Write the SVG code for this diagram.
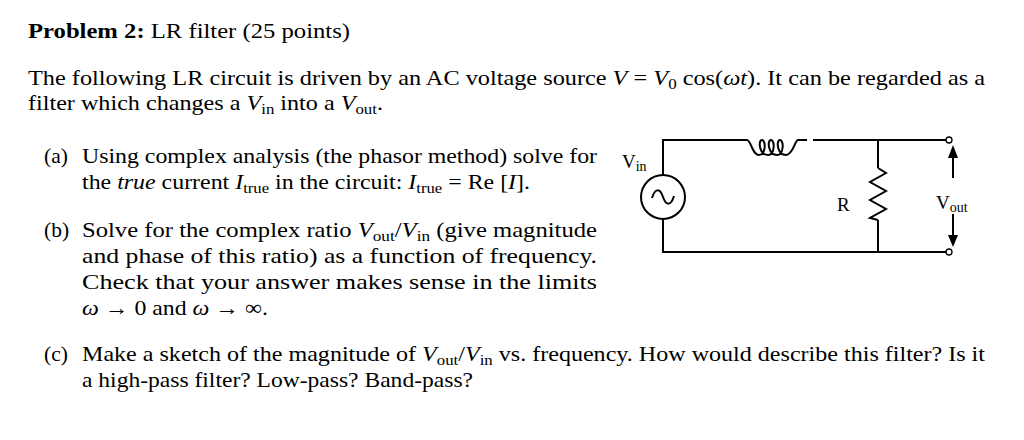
<svg xmlns="http://www.w3.org/2000/svg" width="1024" height="440" viewBox="0 0 1024 440">
<style>
text{font-family:"Liberation Serif","DejaVu Serif",serif;font-size:21.5px;fill:#000}
.i{font-style:italic}
.s{font-size:15px}
.w{fill:none;stroke:#000;stroke-width:2}
.c{font-family:"Liberation Serif",serif;font-size:19px}
</style>
<rect width="1024" height="440" fill="#fff"/>
<text x="28" y="38" textLength="322" lengthAdjust="spacingAndGlyphs"><tspan font-weight="bold">Problem 2:</tspan> LR filter (25 points)</text>
<text x="28" y="85" textLength="957" lengthAdjust="spacingAndGlyphs">The following LR circuit is driven by an AC voltage source <tspan class="i">V</tspan> = <tspan class="i">V</tspan><tspan class="s" dy="4">0</tspan><tspan dy="-4"> cos(</tspan><tspan class="i">ωt</tspan>). It can be regarded as a</text>
<text x="28" y="110" textLength="355" lengthAdjust="spacingAndGlyphs">filter which changes a <tspan class="i">V</tspan><tspan class="s" dy="4">in</tspan><tspan dy="-4"> into a </tspan><tspan class="i">V</tspan><tspan class="s" dy="4">out</tspan><tspan dy="-4">.</tspan></text>
<text x="44" y="163">(a)</text>
<text x="82" y="163" textLength="515" lengthAdjust="spacingAndGlyphs">Using complex analysis (the phasor method) solve for</text>
<text x="82" y="189" textLength="448" lengthAdjust="spacingAndGlyphs">the <tspan class="i">true</tspan> current <tspan class="i">I</tspan><tspan class="s" dy="4">true</tspan><tspan dy="-4"> in the circuit: </tspan><tspan class="i">I</tspan><tspan class="s" dy="4">true</tspan><tspan dy="-4"> = Re [</tspan><tspan class="i">I</tspan>].</text>
<text x="44" y="237">(b)</text>
<text x="82" y="237" textLength="515" lengthAdjust="spacingAndGlyphs">Solve for the complex ratio <tspan class="i">V</tspan><tspan class="s" dy="4">out</tspan><tspan dy="-4">/</tspan><tspan class="i">V</tspan><tspan class="s" dy="4">in</tspan><tspan dy="-4"> (give magnitude</tspan></text>
<text x="82" y="263" textLength="515" lengthAdjust="spacingAndGlyphs">and phase of this ratio) as a function of frequency.</text>
<text x="82" y="289" textLength="515" lengthAdjust="spacingAndGlyphs">Check that your answer makes sense in the limits</text>
<text x="82" y="315" textLength="186" lengthAdjust="spacingAndGlyphs"><tspan class="i">ω</tspan> → 0 and <tspan class="i">ω</tspan> → ∞.</text>
<text x="44" y="361">(c)</text>
<text x="82" y="361" textLength="903" lengthAdjust="spacingAndGlyphs">Make a sketch of the magnitude of <tspan class="i">V</tspan><tspan class="s" dy="4">out</tspan><tspan dy="-4">/</tspan><tspan class="i">V</tspan><tspan class="s" dy="4">in</tspan><tspan dy="-4"> vs. frequency. How would describe this filter? Is it</tspan></text>
<text x="82" y="387" textLength="391" lengthAdjust="spacingAndGlyphs">a high-pass filter? Low-pass? Band-pass?</text>
<g id="connectors">
<path class="w" d="M663,175V140H747M813,140H947M663,219V252H947M878,140V168M878,220V252"/>
<line class="w" x1="953" y1="178" x2="953" y2="155"/>
<polygon points="953,145 958,158 948,158"/>
<line class="w" x1="953" y1="214" x2="953" y2="238"/>
<polygon points="953,247 958,235 948,235"/>
</g>
<g id="source"><circle class="w" cx="663" cy="197" r="22"/><path class="w" d="M652,198c3,-10 8,-10 11,-1s8,9 11,-1"/></g>
<g id="inductor"><path class="w" d="M747,140c4,0 5,15 12,15c7,0 7,-15 3,-15c-4,0 -3,15 6,15c7,0 7,-15 3,-15c-4,0 -3,15 6,15c7,0 7,-15 3,-15c-4,0 -3,15 6,15c7,0 9,-15 12,-15h9"/></g>
<g id="resistor"><path class="w" d="M878,168l8,5l-16,9l16,9l-16,9l16,9l-16,9l8,2"/><text class="c" x="837" y="211">R</text></g>
<g id="terminals"><circle cx="949" cy="140" r="3" fill="#fff" stroke="#000" stroke-width="1.3"/><circle cx="949" cy="252" r="3" fill="#fff" stroke="#000" stroke-width="1.3"/></g>
<text class="c" x="622" y="168">V<tspan font-size="14" dy="3">in</tspan></text>
<text class="c" x="936" y="209">V<tspan font-size="14" dy="3">out</tspan></text>
</svg>
